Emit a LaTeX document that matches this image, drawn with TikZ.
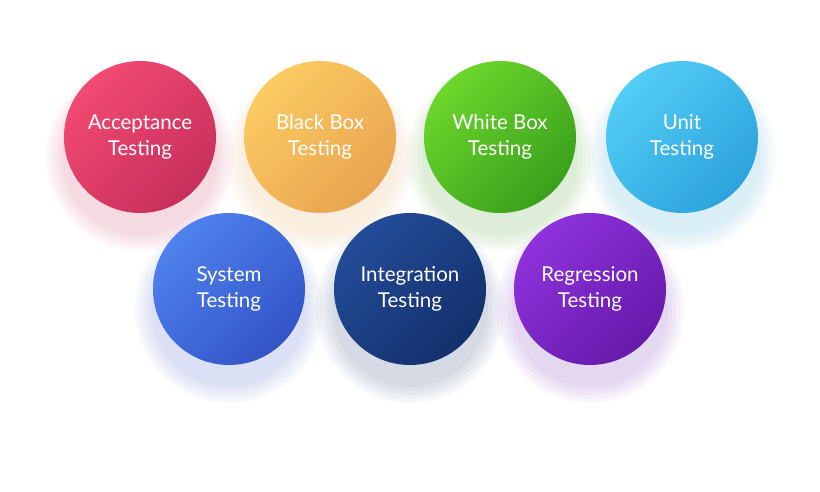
\documentclass[tikz,border=0pt]{standalone}
\usepackage{fontspec}
\setmainfont{Lato}
\definecolor{accA}{HTML}{F24A72}\definecolor{accB}{HTML}{C72F5C}
\definecolor{bbA}{HTML}{FBCB62}\definecolor{bbB}{HTML}{E9A450}
\definecolor{wbA}{HTML}{6CD62C}\definecolor{wbB}{HTML}{3AA01C}
\definecolor{unA}{HTML}{52CDF6}\definecolor{unB}{HTML}{2DA2DC}
\definecolor{syA}{HTML}{4F82EE}\definecolor{syB}{HTML}{3354C6}
\definecolor{inA}{HTML}{234C98}\definecolor{inB}{HTML}{13306C}
\definecolor{reA}{HTML}{8E32DC}\definecolor{reB}{HTML}{661AAA}
\tikzset{
  ball/.style 2 args={circle,minimum size=152pt,inner sep=0pt,align=center,
    text=white,font=\fontsize{20.5}{26}\selectfont,
    shading=axis,left color=#1,right color=#2,shading angle=45},
}
\newcommand{\glowball}[6]{% name, x, y, colA, colB, text
  \foreach \r in {94,90,86,82,78}{
    \fill[#5,opacity=0.035] (#2,#3+20) circle (\r pt);}
  \node[ball={#4}{#5}] (#1) at (#2,#3) {#6};
}
\begin{document}
\begin{tikzpicture}[x=1pt,y=-1pt]
\useasboundingbox (0,0) rectangle (820,491);
\fill[white] (0,0) rectangle (820,491);
\glowball{acc}{140}{137}{accA}{accB}{Acceptance\\Testing}
\glowball{bb}{320}{137}{bbA}{bbB}{Black Box\\Testing}
\glowball{wb}{500}{137}{wbA}{wbB}{White Box\\Testing}
\glowball{un}{682}{137}{unA}{unB}{Unit\\Testing}
\glowball{sy}{229}{289}{syA}{syB}{System\\Testing}
\glowball{in}{410}{289}{inA}{inB}{Integration\\Testing}
\glowball{re}{590}{289}{reA}{reB}{Regression\\Testing}
\end{tikzpicture}
\end{document}
